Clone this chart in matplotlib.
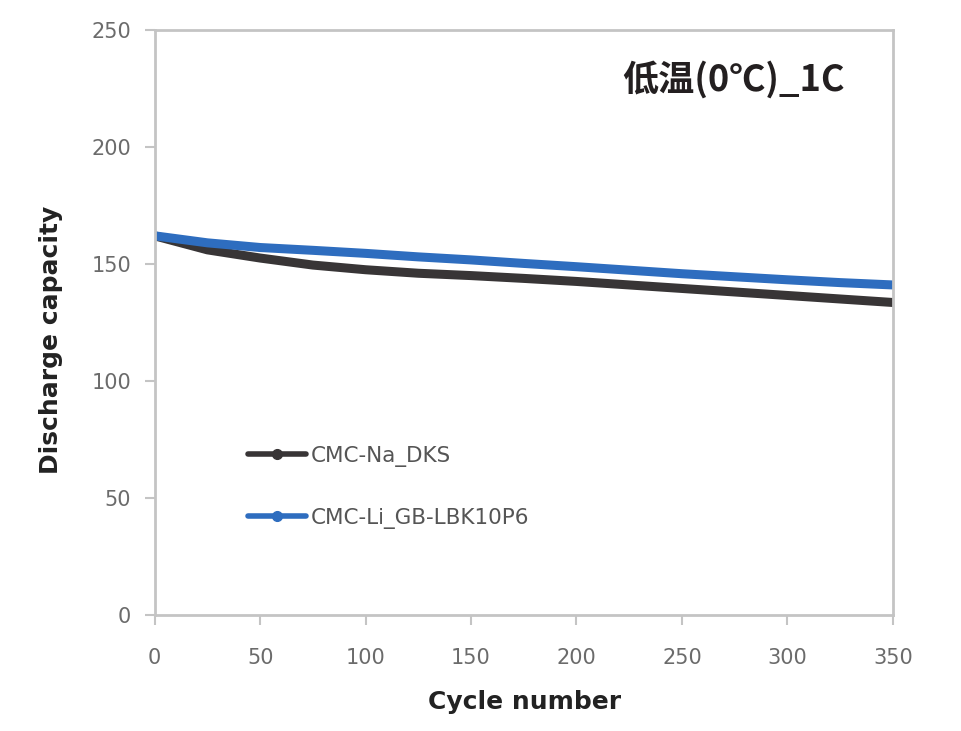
import matplotlib.pyplot as plt

# datos
ciclos = [0, 25, 50, 75, 100, 125, 150, 175, 200, 225, 250, 275, 300, 325, 350]
cap_na = [162, 156, 152.5, 149.5, 147.5, 146, 145, 143.8, 142.5, 141, 139.5, 138, 136.5, 135, 133.5]
cap_li = [162, 159, 157, 155.8, 154.5, 153, 151.7, 150.2, 148.8, 147.3, 145.8, 144.5, 143.2, 142, 141]
nombres = ["CMC-Na_DKS", "CMC-Li_GB-LBK10P6"]
colores = ['#383536', '#2e6dbf']

plt.rcParams['font.family'] = ['DejaVu Sans']

fig = plt.figure(figsize=(9.61, 7.31), dpi=100)
ax = fig.add_axes([0.161, 0.159, 0.768, 0.800])

for i, cap in enumerate([cap_na, cap_li]):
    ax.plot(ciclos, cap, color=colores[i], linewidth=6.5, marker='o', markersize=4,
            label=nombres[i], solid_capstyle='round')

ax.set_xlim(0, 350)
ax.set_ylim(0, 250)
ax.set_xticks(range(0, 351, 50))
ax.set_yticks(range(0, 251, 50))
for s in ax.spines.values():
    s.set_color('#c4c4c4')
    s.set_linewidth(2)
ax.tick_params(colors='#c4c4c4', labelcolor='#6b6b6b', labelsize=15, length=7, width=1.5, pad=10)
ax.tick_params(axis='x', pad=17)

ax.set_xlabel('Cycle number', fontsize=18, fontweight='bold', color='#222222')
ax.set_ylabel('Discharge capacity', fontsize=18, fontweight='bold', color='#222222')
ax.xaxis.set_label_coords(0.501, -0.128)
ax.yaxis.set_label_coords(-0.124, 0.47)

ax.text(0.935, 0.915, '低温(0℃)_1C', transform=ax.transAxes, ha='right', va='center',
        fontsize=26, fontweight='bold', color='#231f20',
        family=['Noto Sans CJK SC', 'DejaVu Sans'])

leg = ax.legend(loc='center left', bbox_to_anchor=(0.1, 0.218), frameon=False, fontsize=15.5,
                labelcolor='#555555', labelspacing=1.9, handlelength=2.7, handletextpad=0.2)
for h in leg.get_lines():
    h.set_linewidth(4)
    h.set_markersize(7)

plt.savefig('out.png', dpi=100)
